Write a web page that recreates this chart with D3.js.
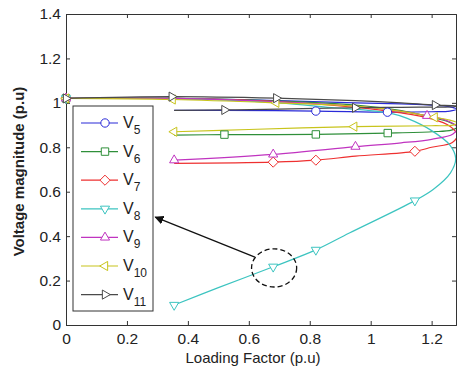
<!DOCTYPE html>
<html>
<head>
<meta charset="utf-8">
<script src="https://cdn.jsdelivr.net/npm/d3@7"></script>
<style>
  body { margin: 0; background: #fff; }
  text { font-family: Arial, "Liberation Sans", sans-serif; fill: #222; }
</style>
</head>
<body>
<div id="pv_plot"></div>
<script>
// tick values
var xTicks = [0, 0.2, 0.4, 0.6, 0.8, 1, 1.2];
var yTicks = [0, 0.2, 0.4, 0.6, 0.8, 1, 1.2, 1.4];

// bus names
var busNames = ["5", "6", "7", "8", "9", "10", "11"];
var busColors = ["#2a2ad8", "#2f8f3a", "#ee3030", "#3cc4c0", "#c034c0", "#c8c41c", "#4a4a4a"];
var busMarkers = ["circle", "square", "diamond", "tridown", "triup", "trileft", "triright"];

// PV curves (loading factor, voltage) : upper branch -> nose -> lower branch
var v5 = [[0,1.02],[0.35,1.02],[0.7,1.01],[0.95,1.0],[1.1,0.995],[1.2,0.99],[1.26,0.982],[1.283,0.972],
          [1.26,0.963],[1.2,0.96],[1.055,0.958],[0.82,0.963],[0.52,0.966],[0.355,0.966]];
var v6 = [[0,1.02],[0.35,1.02],[0.7,1.008],[0.95,0.99],[1.1,0.965],[1.2,0.935],[1.26,0.912],[1.284,0.893],
          [1.265,0.877],[1.2,0.87],[1.056,0.864],[0.82,0.858],[0.52,0.857],[0.355,0.855]];
var v7 = [[0,1.02],[0.35,1.02],[0.7,1.005],[0.95,0.98],[1.1,0.955],[1.2,0.928],[1.26,0.895],[1.284,0.855],
          [1.268,0.822],[1.2,0.8],[1.145,0.782],[0.95,0.76],[0.82,0.742],[0.68,0.733],[0.355,0.728]];
var v8 = [[0,1.02],[0.35,1.02],[0.7,1.0],[0.87,0.979],[0.976,0.968],[1.06,0.955],[1.12,0.93],[1.2,0.875],[1.26,0.81],[1.279,0.75],
          [1.262,0.685],[1.205,0.61],[1.145,0.56],[0.93,0.414],[0.82,0.338],[0.68,0.262],[0.5,0.168],[0.355,0.09]];
var v9 = [[0,1.02],[0.35,1.02],[0.7,1.005],[0.95,0.985],[1.1,0.962],[1.185,0.942],[1.25,0.92],[1.284,0.89],
          [1.27,0.86],[1.2,0.836],[1.1,0.82],[0.95,0.803],[0.68,0.768],[0.355,0.742]];
var v10 = [[0,1.02],[0.35,1.015],[0.69,1.0],[0.95,0.985],[1.1,0.962],[1.21,0.935],[1.26,0.922],[1.284,0.91],
           [1.27,0.9],[1.2,0.897],[0.946,0.893],[0.6,0.88],[0.355,0.87]];
var v11 = [[0,1.02],[0.347,1.028],[0.69,1.021],[0.95,1.01],[1.1,1.0],[1.211,0.99],[1.27,0.988],[1.285,0.985],
           [1.26,0.982],[1.1,0.98],[0.949,0.978],[0.7,0.972],[0.52,0.968],[0.355,0.966]];

// marker positions
var v5Marks = [[0,1.02],[0.82,0.963],[1.055,0.958]];
var v6Marks = [[0,1.02],[0.52,0.857],[0.82,0.858],[1.056,0.864]];
var v7Marks = [[0,1.02],[0.68,0.733],[0.82,0.742],[1.145,0.782]];
var v8Marks = [[0,1.02],[1.145,0.56],[0.82,0.338],[0.68,0.262],[0.355,0.09]];
var v9Marks = [[0,1.02],[1.185,0.942],[0.95,0.803],[0.68,0.768],[0.355,0.742]];
var v10Marks = [[0,1.02],[0.35,1.015],[0.69,1.0],[1.21,0.935],[0.946,0.893],[0.355,0.87]];
var v11Marks = [[0,1.02],[0.347,1.028],[0.69,1.021],[1.211,0.99],[0.949,0.978],[0.52,0.968]];

var curves = [v5, v6, v7, v8, v9, v10, v11];
var marks = [v5Marks, v6Marks, v7Marks, v8Marks, v9Marks, v10Marks, v11Marks];

var margin = {top: 14, right: 18, bottom: 47, left: 66},
    width = 474 - margin.left - margin.right,
    height = 372 - margin.top - margin.bottom;

var svg = d3.select("#pv_plot")
  .append("svg")
    .attr("width", 474)
    .attr("height", 372)
  .append("g")
    .attr("transform", "translate(" + margin.left + "," + margin.top + ")");

var x = d3.scaleLinear().domain([0, 1.28]).range([0, width]);
var y = d3.scaleLinear().domain([0, 1.4]).range([height, 0]);

function fmt(d) { return d3.format("")(+d.toFixed(1)); }

// axes, ticks inside on all four sides
svg.append("g")
    .attr("transform", "translate(0," + height + ")")
    .call(d3.axisBottom(x).tickValues(xTicks).tickSize(-4).tickPadding(8).tickFormat(fmt))
    .call(g => g.selectAll("text").style("font-size", "15.5px"));
svg.append("g")
    .call(d3.axisTop(x).tickValues(xTicks).tickSize(-4).tickFormat(""));
svg.append("g")
    .call(d3.axisLeft(y).tickValues(yTicks).tickSize(-4).tickPadding(5).tickFormat(fmt))
    .call(g => g.selectAll("text").style("font-size", "15.5px"));
svg.append("g")
    .attr("transform", "translate(" + width + ",0)")
    .call(d3.axisRight(y).tickValues(yTicks).tickSize(-4).tickFormat(""));
svg.selectAll(".domain, .tick line").attr("stroke", "#333");

svg.append("defs").append("clipPath").attr("id", "clip")
  .append("rect").attr("width", width).attr("height", height);

var line = d3.line()
    .x(function(d) { return x(d[0]); })
    .y(function(d) { return y(d[1]); })
    .curve(d3.curveCatmullRom.alpha(0.5));

var symbolTypes = {
  circle: d3.symbolCircle, square: d3.symbolSquare, diamond: d3.symbolDiamond2,
  tridown: d3.symbolTriangle2, triup: d3.symbolTriangle2, trileft: d3.symbolTriangle2, triright: d3.symbolTriangle2
};
var symbolRot = {circle: 0, square: 0, diamond: 0, tridown: 180, triup: 0, trileft: -90, triright: 90};
var symbolSize = {circle: 55, square: 55, diamond: 65, tridown: 60, triup: 60, trileft: 60, triright: 60};

function drawMarker(g, kind, cx, cy, color) {
  g.append("path")
    .attr("d", d3.symbol().type(symbolTypes[kind]).size(symbolSize[kind])())
    .attr("transform", "translate(" + cx + "," + cy + ") rotate(" + symbolRot[kind] + ")")
    .attr("fill", "white")
    .attr("stroke", color)
    .attr("stroke-width", 1);
}

var plot = svg.append("g").attr("clip-path", "url(#clip)");
curves.forEach(function(c, i) {
  plot.append("path")
    .datum(c)
    .attr("fill", "none")
    .attr("stroke", busColors[i])
    .attr("stroke-width", 1.2)
    .attr("d", line);
});
marks.forEach(function(m, i) {
  m.forEach(function(p) { drawMarker(svg, busMarkers[i], x(p[0]), y(p[1]), busColors[i]); });
});

// dashed ellipse around V8 point and arrow to legend
svg.append("ellipse")
  .attr("cx", x(0.683)).attr("cy", y(0.257))
  .attr("rx", x(0.074) - x(0)).attr("ry", y(0) - y(0.086))
  .attr("fill", "none").attr("stroke", "#111").attr("stroke-width", 1.3)
  .attr("stroke-dasharray", "5,3");

svg.append("defs").append("marker")
  .attr("id", "head").attr("viewBox", "0 0 10 10").attr("refX", 9).attr("refY", 5)
  .attr("markerWidth", 7).attr("markerHeight", 7).attr("orient", "auto")
  .append("path").attr("d", "M0,0L10,5L0,10z").attr("fill", "#111");
svg.append("line")
  .attr("x1", x(0.62)).attr("y1", y(0.306))
  .attr("x2", x(0.293)).attr("y2", y(0.486))
  .attr("stroke", "#111").attr("stroke-width", 1.3)
  .attr("marker-end", "url(#head)");

// legend
var legend = svg.append("g").attr("transform", "translate(7,92)");
legend.append("rect")
  .attr("width", 80).attr("height", 205)
  .attr("fill", "white").attr("stroke", "#333").attr("stroke-width", 1);
busNames.forEach(function(name, i) {
  var ly = 17 + i * 28.6;
  legend.append("line")
    .attr("x1", 8).attr("x2", 45).attr("y1", ly).attr("y2", ly)
    .attr("stroke", busColors[i]).attr("stroke-width", 1.2);
  drawMarker(legend, busMarkers[i], 32, ly, busColors[i]);
  var t = legend.append("text").attr("x", 50).attr("y", ly + 5).style("font-size", "16px");
  t.append("tspan").text("V");
  t.append("tspan").attr("dy", 6).style("font-size", "12px").text(name);
});

// axis titles
svg.append("text")
  .attr("x", width / 2 - 8).attr("y", height + 38)
  .attr("text-anchor", "middle").style("font-size", "15px")
  .text("Loading Factor (p.u)");
svg.append("text")
  .attr("transform", "translate(" + (-42) + "," + (height / 2 + 2) + ") rotate(-90)")
  .attr("text-anchor", "middle").style("font-size", "15px").style("font-weight", "bold")
  .text("Voltage magnitude (p.u)");
</script>
</body>
</html>
